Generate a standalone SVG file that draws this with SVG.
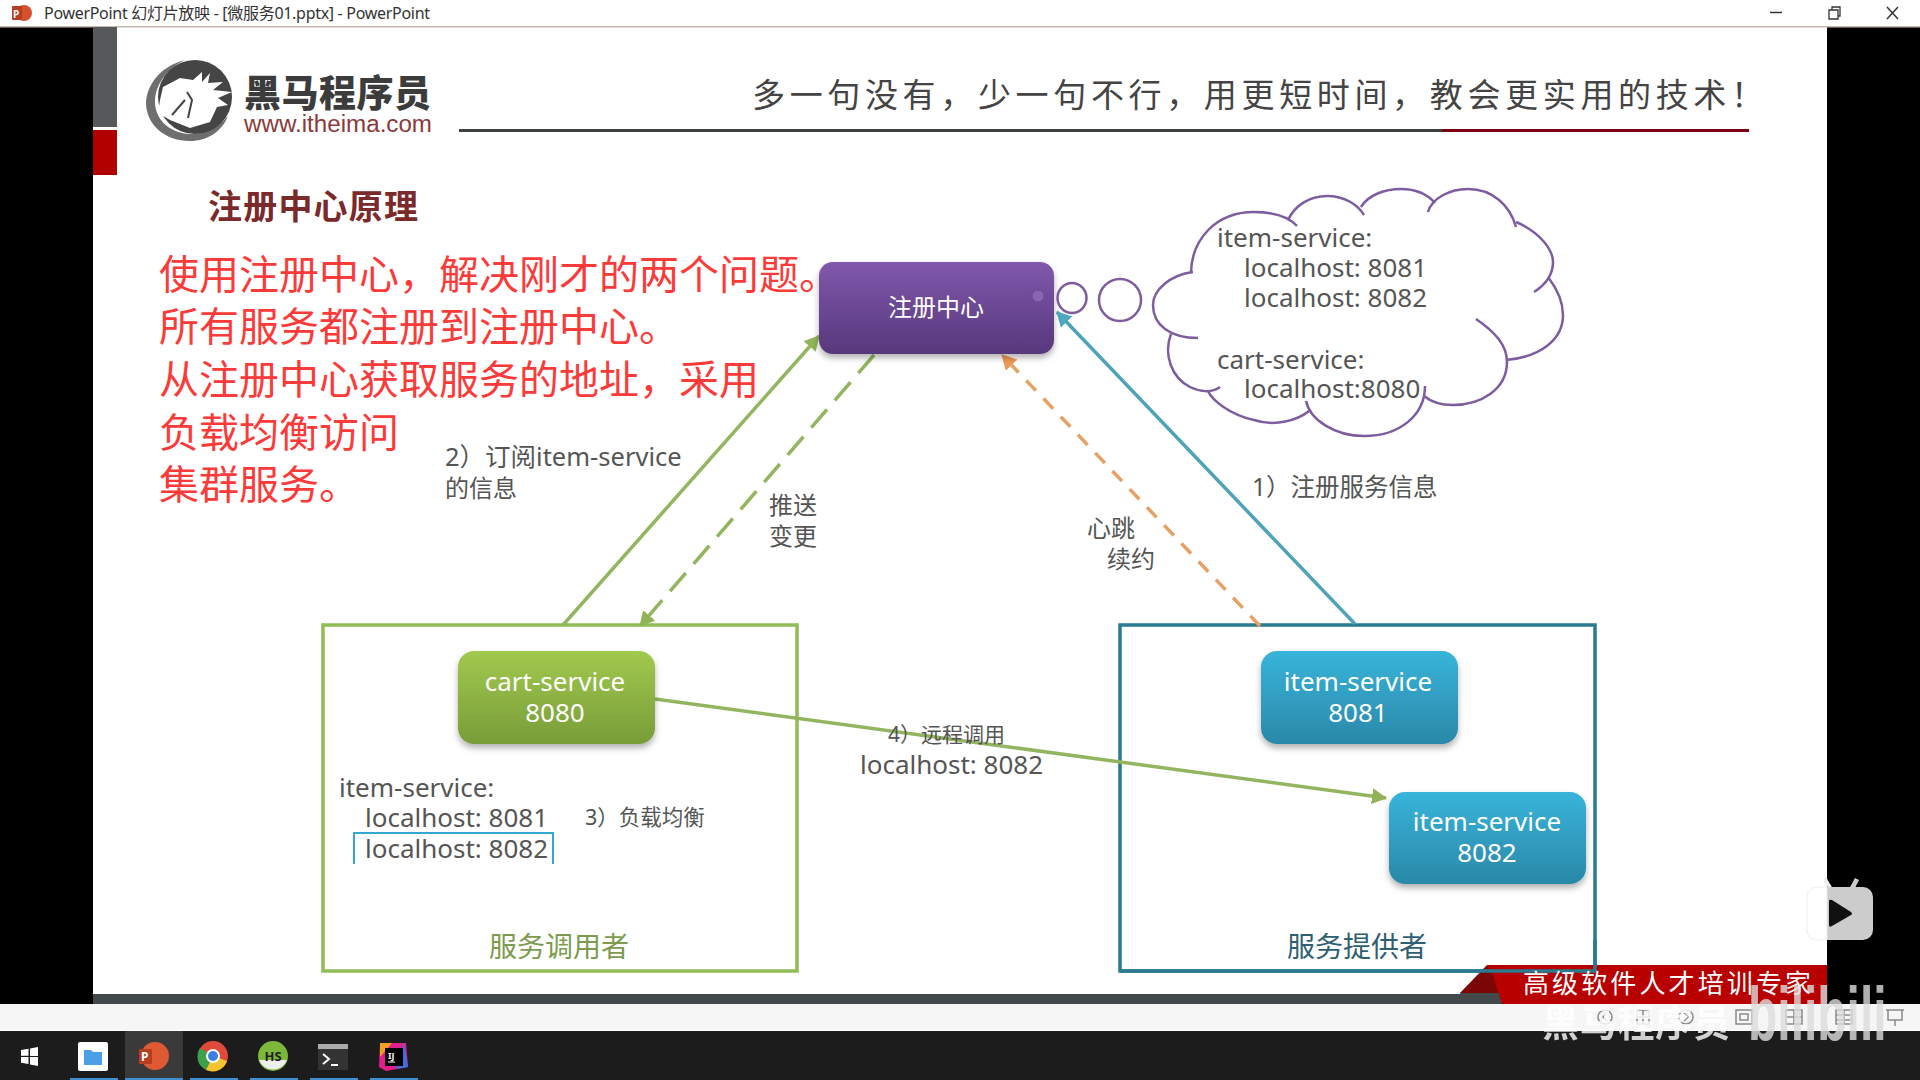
<svg xmlns="http://www.w3.org/2000/svg" width="1920" height="1080" viewBox="0 0 1920 1080">
<style>
text{font-family:"Noto Sans","Noto Sans CJK SC",sans-serif;fill:#555}
.red{font-size:40px;fill:#fb3a3a}
.lb{font-size:24px}
.code{font-size:26px}
.nt{font-size:26px;fill:#fff;text-anchor:middle}
.cap{font-size:28px;text-anchor:middle}
.node{stroke:none;filter:url(#sh)}
.wire{fill:none;stroke-width:3.500}
.cloud{fill:none;stroke:#7d5c9f;stroke-width:2.500}
.ic{fill:none;stroke:#8a8a8a;stroke-width:1.500}
.tb{fill:#3f8fd0}
</style>
<defs>
<linearGradient id="gp" x1="0" y1="0" x2="0" y2="1"><stop offset="0" stop-color="#8058ac"/><stop offset="1" stop-color="#57387c"/></linearGradient>
<linearGradient id="gg" x1="0" y1="0" x2="0" y2="1"><stop offset="0" stop-color="#a2c94e"/><stop offset="1" stop-color="#789c38"/></linearGradient>
<linearGradient id="gb" x1="0" y1="0" x2="0" y2="1"><stop offset="0" stop-color="#38b4da"/><stop offset="1" stop-color="#2a88a8"/></linearGradient>
<filter id="sh" x="-10%" y="-10%" width="120%" height="130%"><feDropShadow dx="0" dy="4" stdDeviation="3" flood-color="#000" flood-opacity=".3"/></filter>
<marker id="ag" markerUnits="userSpaceOnUse" markerWidth="18" markerHeight="18" refX="14" refY="8" orient="auto"><path d="M0 0L15 8L0 16z" fill="#8fb356"/></marker>
<marker id="ab" markerUnits="userSpaceOnUse" markerWidth="18" markerHeight="18" refX="14" refY="8" orient="auto"><path d="M0 0L15 8L0 16z" fill="#4fa8c0"/></marker>
<marker id="ao" markerUnits="userSpaceOnUse" markerWidth="18" markerHeight="18" refX="14" refY="8" orient="auto"><path d="M0 0L15 8L0 16z" fill="#ee9a55"/></marker>
</defs>

<rect width="1920" height="1080" fill="#000"/>
<rect x="93" y="27" width="1734" height="967" fill="#fff"/>
<rect width="1920" height="27" fill="#fff"/>
<rect y="26" width="1920" height="1.500" fill="#c8b8b0"/>
<g id="titlebar">
<circle cx="24" cy="13" r="8" fill="#d2502e"/><rect x="12" y="6" width="10" height="14" rx="1" fill="#b83c20"/>
<text x="13" y="18" style="font-size:10px;font-weight:700;fill:#fff">P</text>
<text x="44" y="19" style="font-size:16px;fill:#333" textLength="386">PowerPoint 幻灯片放映 - [微服务01.pptx] - PowerPoint</text>
<path d="M1770 12.500h12" stroke="#333" stroke-width="1.500"/>
<path d="M1829 10h9v9h-9zM1832 10v-3h8v9h-2" fill="none" stroke="#333" stroke-width="1.300"/>
<path d="M1887 7l11 12M1898 7l-11 12" stroke="#333" stroke-width="1.500"/>
</g>

<rect x="93" y="27" width="24" height="100" fill="#55595a"/>
<rect x="93" y="130" width="24" height="45" fill="#b00000"/>

<g id="logo">
<path d="M185 60C160 66 146 86 146 104C147 125 165 141 190 141C208 141 222 131 228 116C218 128 204 134 190 134C168 133 155 118 155 102C155 84 168 68 185 60z" fill="#6e6e6e"/>
<circle cx="195" cy="97" r="37" fill="#454545"/>
<path d="M163 87L180 78L193 80L202 72L202 82L210 73L208 83L223 82L213 90L232 92L218 98L228 105L217 107L210 122L190 128L170 120L158 113L160 100z" fill="#fff"/>
<path d="M187 92L192 100L188 118M185 100L172 115" fill="none" stroke="#444" stroke-width="2"/>
<text x="244" y="107" style="font-size:37px;font-weight:900;fill:#3c3c3c" textLength="187">黑马程序员</text>
<text x="244" y="132" style="font-size:23px;fill:#8a3a3a;font-family:'Liberation Sans'" textLength="188" lengthAdjust="spacingAndGlyphs">www.itheima.com</text>
</g>
<text id="slogan" x="752" y="107" style="font-size:33px;fill:#444" textLength="1012">多一句没有&#xFF0C;少一句不行&#xFF0C;用更短时间&#xFF0C;教会更实用的技术&#xFF01;</text>
<rect x="459" y="129" width="983" height="3" fill="#3c4040"/>
<rect x="1442" y="129" width="307" height="3" fill="#7a0010"/>

<text id="heading" x="208" y="219" style="font-size:34px;font-weight:700;fill:#7a2a2a" textLength="210">注册中心原理</text>

<g id="intro">
<text class="red" x="159" y="289">使用注册中心&#xFF0C;解决刚才的两个问题。</text>
<text class="red" x="159" y="341">所有服务都注册到注册中心。</text>
<text class="red" x="159" y="394">从注册中心获取服务的地址&#xFF0C;采用</text>
<text class="red" x="159" y="447">负载均衡访问</text>
<text class="red" x="159" y="499">集群服务。</text>
</g>

<g id="consumer-box">
<rect x="323" y="625" width="474" height="346" fill="none" stroke="#8fbc55" stroke-width="3.500"/>
<text class="cap" x="559" y="957" style="fill:#7d9b4e">服务调用者</text>
<text class="code" x="339" y="797">item-service:</text>
<text class="code" x="365" y="827">localhost: 8081</text>
<text class="code" x="365" y="858">localhost: 8082</text>
<path d="M354 864V833H553V864" fill="none" stroke="#33a9d2" stroke-width="2"/>
<text x="585" y="825" style="font-size:21.500px">3&#xFF09;负载均衡</text>
</g>

<g id="provider-box">
<rect x="1120" y="625" width="475" height="346" fill="none" stroke="#2a7a90" stroke-width="3.500"/>
<text class="cap" x="1357" y="957" style="fill:#2f5f72">服务提供者</text>
</g>

<g id="connectors">
<path class="wire" d="M563 625L819 336" stroke="#93b560" marker-end="url(#ag)"/>
<path class="wire" d="M874 355L640 626" stroke="#93b560" stroke-dasharray="24 12" marker-end="url(#ag)"/>
<path class="wire" d="M1355 624L1057 312" stroke="#4fa3b8" marker-end="url(#ab)"/>
<path class="wire" d="M1260 626L1002 355" stroke="#e6a264" stroke-dasharray="14 11" marker-end="url(#ao)"/>
<path class="wire" d="M655 699L1386 798" stroke="#93b560" marker-end="url(#ag)"/>
</g>

<g id="registry">
<rect class="node" x="819" y="262" width="235" height="92" rx="14" fill="url(#gp)"/>
<text x="936" y="316" style="font-size:24px;fill:#fff;text-anchor:middle">注册中心</text>
<circle cx="1038" cy="296" r="6" fill="#8a65b5" stroke="#6a4a90"/>
</g>
<g id="thought" class="cloud">
<ellipse cx="1072" cy="298" rx="14.500" ry="15"/>
<ellipse cx="1120" cy="300" rx="21" ry="21"/>
<path d="M1191 272C1192 240 1215 212 1254 212C1272 212 1288 216 1297 226"/>
<path d="M1288 220C1295 205 1310 196 1327 196C1345 196 1358 205 1364 215"/>
<path d="M1361 207C1368 195 1385 189 1401 189C1417 189 1428 195 1435 203"/>
<path d="M1428 212C1432 198 1450 189 1468 189C1492 189 1510 205 1516 227"/>
<path d="M1516 222C1540 232 1553 250 1553 262C1553 275 1545 285 1534 292"/>
<path d="M1548 277C1558 290 1563 302 1563 315C1563 340 1540 357 1506 360"/>
<path d="M1476 319C1495 332 1507 345 1507 362C1507 390 1480 405 1453 405C1440 405 1430 401 1424 396"/>
<path d="M1425 386C1425 415 1400 436 1364 436C1335 436 1310 420 1306 401"/>
<path d="M1309 411C1298 420 1275 427 1254 420C1230 415 1212 400 1208 391"/>
<path d="M1220 387C1212 393 1200 392 1190 387C1172 378 1163 355 1171 334"/>
<path d="M1198 338C1170 338 1153 325 1153 305C1153 290 1170 275 1193 272"/>
</g>
<g id="thought-text">
<text class="code" x="1217" y="247">item-service:</text>
<text class="code" x="1244" y="277">localhost: 8081</text>
<text class="code" x="1244" y="307">localhost: 8082</text>
<text class="code" x="1217" y="369">cart-service:</text>
<text class="code" x="1244" y="398">localhost:8080</text>
</g>

<g id="cart-service">
<rect class="node" x="458" y="651" width="197" height="93" rx="16" fill="url(#gg)"/>
<text class="nt" x="555" y="691">cart-service</text>
<text class="nt" x="555" y="722">8080</text>
</g>
<g id="item-service-8081">
<rect class="node" x="1261" y="651" width="197" height="93" rx="16" fill="url(#gb)"/>
<text class="nt" x="1358" y="691">item-service</text>
<text class="nt" x="1358" y="722">8081</text>
</g>
<g id="item-service-8082">
<rect class="node" x="1389" y="792" width="197" height="92" rx="16" fill="url(#gb)"/>
<text class="nt" x="1487" y="831">item-service</text>
<text class="nt" x="1487" y="862">8082</text>
</g>

<g id="labels">
<text x="445" y="466" style="font-size:25.500px">2&#xFF09;订阅item-service</text>
<text class="lb" x="445" y="497">的信息</text>
<text class="lb" x="769" y="514">推送</text>
<text class="lb" x="769" y="545">变更</text>
<text class="lb" x="1087" y="537">心跳</text>
<text class="lb" x="1107" y="568">续约</text>
<text x="1252" y="496" style="font-size:24.500px">1&#xFF09;注册服务信息</text>
<text x="888" y="742" style="font-size:21px">4&#xFF09;远程调用</text>
<text class="code" x="860" y="774">localhost: 8082</text>
</g>

<rect x="93" y="994" width="1734" height="10" fill="#43484a"/>
<g id="ribbon">
<path d="M1460 993L1487 965H1500V993z" fill="#7c0505"/>
<rect x="1460" y="993" width="42" height="11" fill="#43484a"/>
<path d="M1487 965H1827V1004H1502L1492 972z" fill="#b80000"/>
<path d="M1120 971H1595V940" fill="none" stroke="#2a7a90" stroke-width="3.500"/>
<text id="banner" x="1523" y="993" style="font-size:26px;fill:#fff" textLength="288">高级软件人才培训专家</text>
</g>

<rect y="1004" width="1920" height="27" fill="#f6f6f6"/>
<rect y="1030" width="1920" height="1.500" fill="#fff"/>
<g id="toolbar" class="ic">
<circle cx="1605" cy="1017" r="7"/><path d="M1607 1013l-4 4l4 4"/>
<path d="M1637 1010h12v14h-12zM1637 1017h12M1643 1010v14"/>
<circle cx="1686" cy="1017" r="7"/><path d="M1684 1013l4 4l-4 4"/>
<path d="M1736 1010h16v14h-16zM1740 1014h8v6h-8z"/>
<path d="M1786 1010h16v14h-16zM1786 1017h16M1794 1010v14"/>
<path d="M1836 1010h16v14h-16zM1844 1010v14M1836 1015h16M1836 1020h16"/>
<path d="M1886 1010h18M1888 1010v10h14v-10M1895 1020v6"/>
</g>

<rect y="1031" width="1920" height="49" fill="#1c1c1c"/>
<g id="taskbar">
<path d="M21 1050l7.500-1.200v7h-7.500zM30 1048.500l8-1.500v9h-8zM21 1057h7.500v7l-7.500-1.200zM30 1057h8v9l-8-1.500z" fill="#fff"/>
<rect x="78" y="1042" width="30" height="29" rx="2" fill="#fff"/>
<path d="M84 1050h7l2 2h9v13h-18z" fill="#4a9fe8"/>
<rect x="125" y="1031" width="58" height="49" fill="#3a3a3a"/>
<circle cx="155" cy="1056" r="14" fill="#dd5a32"/><rect x="139" y="1049" width="13" height="15" rx="1" fill="#b83c20"/>
<text x="141" y="1061" style="font-size:12px;font-weight:700;fill:#fff">P</text>
<circle cx="213" cy="1056" r="15" fill="#e04a3a"/>
<path d="M213 1056L200 1048A15 15 0 0 0 206 1070z" fill="#3da04a"/><path d="M213 1056L206 1070A15 15 0 0 0 227 1061z" fill="#f4c430"/>
<circle cx="213" cy="1056" r="7" fill="#fff"/><circle cx="213" cy="1056" r="5" fill="#3a80e0"/>
<circle cx="273" cy="1056" r="15" fill="#7cb83a"/><path d="M259 1060A15 15 0 0 0 287 1060z" fill="#eee"/>
<text x="273" y="1061" style="font-size:13px;font-weight:700;fill:#222;text-anchor:middle">HS</text>
<rect x="318" y="1044" width="30" height="26" fill="#333"/><rect x="318" y="1044" width="30" height="5" fill="#aaa"/>
<path d="M323 1054l6 5l-6 5M331 1065h7" fill="none" stroke="#fff" stroke-width="2"/>
<path d="M380 1043h26l2 24l-22 4l-7-4z" fill="#e0208a"/><path d="M380 1043l12 0l-12 14z" fill="#f0a020"/><path d="M404 1043l4 24l-12 2z" fill="#3a70e0"/>
<rect x="385" y="1048" width="18" height="18" fill="#000"/>
<text x="388" y="1059" style="font-size:9px;font-weight:700;fill:#fff">IJ</text>
<path d="M388 1062h7" stroke="#fff"/>
<rect class="tb" x="70" y="1078" width="48" height="2"/><rect class="tb" x="125" y="1078" width="58" height="2"/><rect class="tb" x="190" y="1078" width="48" height="2"/><rect class="tb" x="250" y="1078" width="48" height="2"/><rect class="tb" x="310" y="1078" width="48" height="2"/><rect class="tb" x="370" y="1078" width="48" height="2"/>
</g>

<g id="watermark">
<path d="M1849 889l6-11l4 2l-5 10z" fill="#ccc"/>
<path d="M1823 880l3-3l7 12h-4z" fill="#eee"/>
<rect x="1807" y="887" width="66" height="53" rx="10" fill="#ccc"/>
<path d="M1817 887H1827V940H1817A10 10 0 0 1 1807 930V897A10 10 0 0 1 1817 887z" fill="#fff" stroke="#eee"/>
<path d="M1829 901Q1829 899 1832 900L1851 912Q1853 914 1851 915L1832 926Q1829 928 1829 925z" fill="#111"/>
<text x="1542" y="1037" style="font-size:37px;font-weight:700;fill:#fff;opacity:.8" textLength="188">黑马程序员</text>
<text transform="scale(1 1.600)" x="1748" y="650" style="font-size:48px;font-weight:700;fill:#ddd;opacity:.8;font-family:'Liberation Sans'">bilibili</text>
</g>
</svg>
